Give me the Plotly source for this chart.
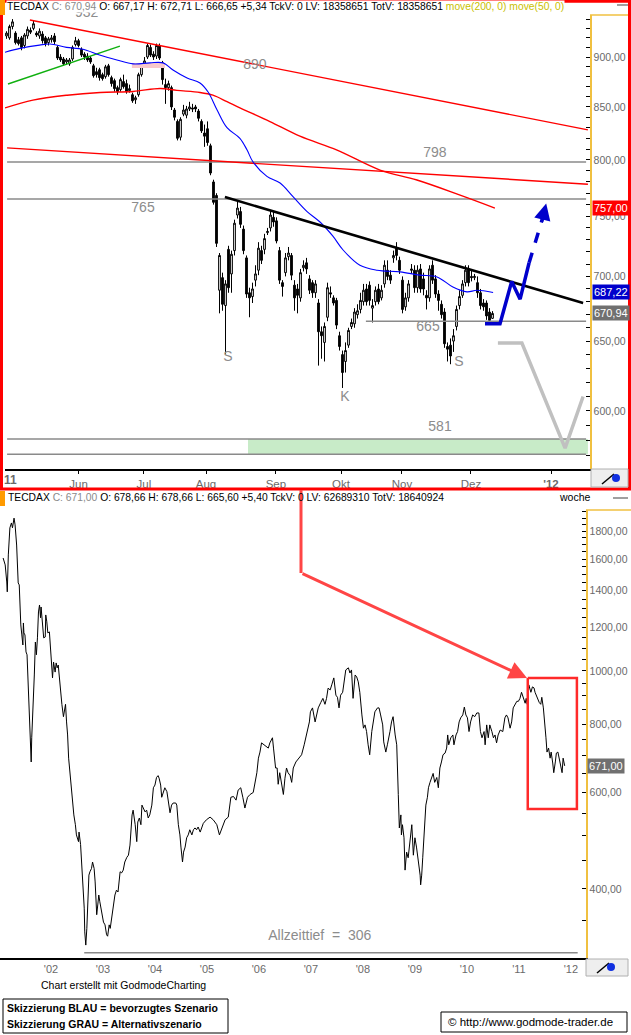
import numpy as np
import plotly.graph_objects as go

W, H = 631, 1035

# ================= TOP PANEL: TecDAX daily 2011 (x = trading-day index) =================
opens = [922, 920, 932, 925, 918, 920, 912, 922, 928, 930,
         925, 922, 924, 920, 915, 918, 922, 910, 900, 898,
         895, 893, 898, 913, 917, 908, 903, 901, 899, 891,
         885, 887, 882, 880, 891, 879, 876, 869, 867, 875,
         873, 866, 862, 857, 862, 882, 891, 900, 910, 903,
         901, 912, 894, 872, 869, 869, 847, 836, 821, 843,
         842, 848, 849, 850, 846, 836, 825, 829,
         813, 780, 768,
         689, 699, 677, 722, 702, 721, 751, 754, 739, 715,
         687, 684, 697, 705, 721, 722, 736, 740, 749, 746,
         721, 695, 703, 716, 717, 693, 690, 683, 707, 711,
         698, 695, 687, 679, 657, 649, 668, 687, 683, 681,
         654, 640,
         635, 647, 661, 663, 670, 674, 680, 690, 693, 675,
         680, 690, 683, 694, 705, 701, 715, 723, 713, 697,
         676, 683, 706, 705, 691, 706, 698, 685, 683, 709,
         698, 686, 678, 672, 646, 647, 650, 661, 677, 685,
         695, 706, 700, 699, 695, 687, 679, 679, 672, 667.17]
closes = [925, 932, 937, 915, 914, 910, 923, 929, 926, 935,
          923, 927, 917, 914, 919, 920, 916, 899, 897, 893,
          897, 897, 910, 917, 912, 902, 900, 897, 895, 881,
          882, 879, 878, 890, 882, 873, 868, 865, 877, 870,
          865, 868, 856, 859, 882, 891, 896, 912, 902, 900,
          912, 899, 877, 869, 873, 850, 840, 820, 838, 847,
          848, 850, 848, 848, 839, 827, 822, 816,
          788, 762, 727,
          717, 678, 694, 691, 718, 744, 757, 743, 721, 686,
          683, 690, 702, 723, 713, 731, 737, 751, 745, 729,
          697, 692, 715, 719, 701, 683, 685, 703, 709, 706,
          689, 687, 694, 657, 654, 661, 691, 686, 679, 662,
          646, 627,
          643, 658, 664, 672, 673, 681, 689, 680, 681, 677,
          689, 680, 689, 709, 700, 697, 717, 717, 705, 674,
          683, 694, 705, 691, 705, 690, 690, 683, 706, 697,
          686, 681, 670, 648, 644, 639, 654, 674, 684, 694,
          705, 695, 699, 700, 687, 677, 676, 669, 665.6, 670.94]
highs = [927, 934, 940, 927, 921, 922, 925, 932, 931, 938,
         927, 930, 927, 922, 921, 923, 925, 912, 903, 900,
         899, 899, 912, 921, 919, 910, 905, 904, 901, 893,
         889, 889, 884, 892, 893, 881, 878, 871, 879, 882,
         877, 872, 864, 861, 884, 893, 900, 914, 913, 906,
         914, 914, 896, 878, 876, 871, 849, 838, 840, 852,
         851, 855, 853, 852, 848, 838, 833, 836,
         815, 782, 770,
         719, 703, 697, 725, 721, 747, 763, 758, 742, 717,
         691, 695, 709, 728, 725, 735, 740, 755, 754, 749,
         724, 697, 719, 724, 719, 697, 694, 706, 713, 715,
         701, 697, 697, 682, 661, 664, 695, 692, 685, 683,
         657, 643,
         649, 660, 667, 675, 678, 687, 694, 694, 696, 682,
         692, 694, 693, 713, 713, 705, 721, 728, 716, 700,
         687, 697, 710, 709, 709, 710, 703, 689, 709, 713,
         701, 689, 681, 675, 649, 652, 659, 677, 689, 697,
         709, 709, 705, 702, 700, 690, 682, 681, 675, 672.71]
lows = [919, 918, 929, 913, 912, 907, 909, 919, 924, 928,
        921, 919, 914, 911, 912, 915, 913, 897, 895, 891,
        892, 891, 896, 911, 910, 900, 897, 895, 893, 879,
        879, 876, 876, 878, 880, 870, 865, 862, 865, 868,
        863, 864, 854, 853, 860, 880, 889, 898, 900, 897,
        898, 897, 872, 853, 866, 847, 837, 818, 818, 841,
        839, 846, 845, 845, 836, 825, 812, 813,
        786, 760, 724,
        671, 673, 640, 687, 687, 717, 748, 740, 718, 683,
        668, 679, 692, 701, 710, 718, 734, 737, 741, 727,
        694, 684, 700, 713, 697, 673, 671, 680, 704, 702,
        686, 683, 683, 632, 637, 635, 665, 683, 677, 659,
        643, 616,
        627, 645, 659, 660, 667, 671, 677, 677, 677, 664,
        677, 678, 681, 691, 697, 694, 711, 713, 702, 671,
        673, 680, 702, 687, 687, 687, 685, 674, 680, 694,
        683, 673, 667, 645, 635, 633, 642, 658, 674, 683,
        692, 692, 696, 697, 683, 674, 673, 666, 664, 666.65]
day_idx = list(range(len(closes)))

month_pos = [24, 45.8, 66.5, 89.8, 111.5, 131.8, 154.8, 181.5]
month_lbl = ["Jun", "Jul", "Aug", "Sep", "Okt", "Nov", "Dez", "<b>'12</b>"]

# moving averages
ma50_t = [-0.5, 4.5, 11, 14.5, 20, 25.5, 31, 36.8, 42.2, 47.8, 52.2, 55.5, 60.2, 64.5, 67.2,
          70.2, 73.5, 77.8, 80.2, 82.2, 86.8, 91.2, 95.5, 100.2, 104.5, 108.8, 112.2, 117.8,
          123.5, 131.2, 137.8, 143.5, 148.8, 153.5, 156.8, 162.2]
ma50_v = [905, 909, 912.4, 913.5, 910, 908, 902, 897, 893, 894, 894, 886.7, 878.6, 873.6, 864.6,
          847, 830, 820, 809, 798, 785, 779, 767, 754, 745, 733, 721.5, 709,
          705, 703.6, 701, 699.6, 691.5, 687.7, 689, 687.22]
ma200_t = [-0.5, 8.8, 20.2, 31.2, 42.2, 51.2, 56.8, 64.5, 68.8, 73.5, 77.8, 87.8, 97.8, 110.2,
           124.5, 136.8, 151.2, 162.8]
ma200_v = [849, 856.7, 861.5, 864.2, 865.2, 868.2, 866.3, 864.2, 861.5, 855.1, 849.1, 835.9, 822,
           809, 790.7, 781.7, 768.3, 757]

# trend lines
upper_red_t, upper_red_v = [7.8, 193.8], [939, 828]
lower_red_t, lower_red_v = [0.2, 193.8], [811, 778]
green_t, green_v = [0.5, 37.8], [872.6, 911.4]
black_t, black_v = [72.8, 192.2], [766.6, 679]

# horizontal levels
level_vals = [798, 765, 665, 581, 571]
level_start = [0.2, 0.2, 119.8, 0.2, 0.2]
level_end = [193.2, 193.2, 193.2, 193.2, 193.2]
band_t, band_lo, band_hi = [80.5, 193.8], 571, 581
pink_t, pink_v = [41.8, 52.8], [888.7, 893.8]

# scenario sketches
blue_t = [159.5, 164.5, 168.4, 171.2, 174.2]
blue_v = [663, 663, 696, 682, 711]
blue_dash_t, blue_dash_v = [174.2, 178.9], [711, 750]
blue_tip_t, blue_tip_v = 179.9, 761
gray_t = [163.8, 171.8, 186.2, 192.2]
gray_v = [648.5, 648.5, 575, 610]

top_lbl_t = [82.8, 142.8, 45.5, 140.5, 144.5, 73.8, 112.8, 150.8]
top_lbl_v = [891, 806, 757, 660, 589, 638, 609, 634.6]
top_lbl_txt = ["890", "798", "765", "665", "581", "S", "K", "S"]

top_major = [600, 650, 700, 750, 800, 850, 900]

# ================= BOTTOM PANEL: TecDAX weekly (x = decimal year) =================
week_x = [2001.08, 2001.12, 2001.15, 2001.16, 2001.18, 2001.21, 2001.24, 2001.26, 2001.29, 2001.31,
          2001.34, 2001.35, 2001.37, 2001.39, 2001.40, 2001.42, 2001.44, 2001.46, 2001.47, 2001.48,
          2001.50, 2001.52, 2001.54, 2001.56, 2001.58, 2001.60, 2001.62, 2001.63, 2001.65, 2001.66,
          2001.68, 2001.70, 2001.72, 2001.74, 2001.76, 2001.78, 2001.80, 2001.81, 2001.83, 2001.86,
          2001.89, 2001.90, 2001.92, 2001.94, 2001.97, 2001.99, 2002.01, 2002.03, 2002.05, 2002.08,
          2002.10, 2002.12, 2002.14, 2002.16, 2002.19, 2002.21, 2002.24, 2002.26, 2002.28, 2002.30,
          2002.32, 2002.34, 2002.37, 2002.40, 2002.42, 2002.44, 2002.47, 2002.49, 2002.53, 2002.54,
          2002.57, 2002.59, 2002.62, 2002.64, 2002.65, 2002.67, 2002.69, 2002.71, 2002.73, 2002.75,
          2002.78, 2002.80, 2002.83, 2002.85, 2002.88, 2002.90, 2002.92, 2002.94, 2002.98, 2003.01,
          2003.04, 2003.07, 2003.09, 2003.12, 2003.14, 2003.17, 2003.20, 2003.23, 2003.26, 2003.29,
          2003.33, 2003.36, 2003.39, 2003.42, 2003.46, 2003.49, 2003.52, 2003.54, 2003.56, 2003.58,
          2003.62, 2003.65, 2003.67, 2003.70, 2003.73, 2003.75, 2003.78, 2003.81, 2003.84, 2003.87,
          2003.90, 2003.94, 2003.97, 2004.00, 2004.03, 2004.06, 2004.08, 2004.11, 2004.13, 2004.16,
          2004.19, 2004.23, 2004.26, 2004.29, 2004.32, 2004.35, 2004.40, 2004.42, 2004.45, 2004.48,
          2004.50, 2004.53, 2004.55, 2004.58, 2004.61, 2004.64, 2004.67, 2004.71, 2004.74, 2004.77,
          2004.80, 2004.83, 2004.87, 2004.93, 2004.99, 2005.06, 2005.12, 2005.19, 2005.24, 2005.28,
          2005.35, 2005.41, 2005.46, 2005.51, 2005.56, 2005.60, 2005.65, 2005.69, 2005.73, 2005.78,
          2005.83, 2005.89, 2005.92, 2005.96, 2005.99, 2006.02, 2006.05, 2006.10, 2006.14, 2006.18,
          2006.21, 2006.26, 2006.28, 2006.30, 2006.32, 2006.35, 2006.37, 2006.40, 2006.44, 2006.47,
          2006.50, 2006.53, 2006.56, 2006.60, 2006.63, 2006.66, 2006.71, 2006.76, 2006.82, 2006.87,
          2006.90, 2006.94, 2006.97, 2006.99, 2007.03, 2007.08, 2007.11, 2007.14, 2007.19, 2007.23,
          2007.27, 2007.30, 2007.33, 2007.37, 2007.40, 2007.44, 2007.48, 2007.51, 2007.54, 2007.57,
          2007.61, 2007.63, 2007.67, 2007.72, 2007.75, 2007.78, 2007.81, 2007.85, 2007.88, 2007.91,
          2007.94, 2007.98, 2008.01, 2008.04, 2008.07, 2008.10, 2008.13, 2008.17, 2008.20, 2008.23,
          2008.28, 2008.31, 2008.34, 2008.38, 2008.40, 2008.44, 2008.47, 2008.49, 2008.52, 2008.55,
          2008.58, 2008.62, 2008.65, 2008.68, 2008.70, 2008.73, 2008.74, 2008.76, 2008.79, 2008.81,
          2008.84, 2008.87, 2008.90, 2008.94, 2008.97, 2009.00, 2009.03, 2009.06, 2009.10, 2009.11,
          2009.13, 2009.15, 2009.17, 2009.19, 2009.21, 2009.24, 2009.26, 2009.29, 2009.32, 2009.35,
          2009.38, 2009.42, 2009.45, 2009.48, 2009.51, 2009.54, 2009.58, 2009.61, 2009.63, 2009.65,
          2009.69, 2009.73, 2009.75, 2009.79, 2009.82, 2009.85, 2009.88, 2009.92, 2009.95, 2009.98,
          2010.01, 2010.04, 2010.07, 2010.11, 2010.15, 2010.19, 2010.23, 2010.26, 2010.29, 2010.33,
          2010.35, 2010.38, 2010.41, 2010.44, 2010.48, 2010.51, 2010.54, 2010.57, 2010.60, 2010.64,
          2010.69, 2010.71, 2010.73, 2010.76, 2010.79, 2010.83, 2010.86, 2010.89, 2010.92, 2010.96,
          2010.99, 2011.02, 2011.05, 2011.08, 2011.12, 2011.14, 2011.16, 2011.19, 2011.23, 2011.26,
          2011.29, 2011.31, 2011.35, 2011.39, 2011.42, 2011.44, 2011.47, 2011.50, 2011.52, 2011.54,
          2011.57, 2011.60, 2011.62, 2011.65, 2011.67, 2011.70, 2011.72, 2011.75, 2011.77, 2011.80,
          2011.83, 2011.85, 2011.88]
week_v = [1607, 1561, 1453, 1394, 1628, 1824, 1862, 1824, 1900, 1847,
          1697, 1581, 1447, 1435, 1319, 1213, 1163, 1115, 1223, 1173,
          1163, 1083, 1070, 971, 876, 755, 682, 755, 831, 869,
          983, 1129, 1070, 1149, 1281, 1319, 1250, 1308, 1239, 1149,
          1153, 1265, 1229, 1173, 1178, 1101, 1038, 971, 1038, 995,
          1034, 1013, 1025, 971, 903, 869, 825, 842, 869, 807,
          764, 693, 638, 601, 562, 546, 524, 502, 488, 508,
          482, 444, 402, 369, 334, 316, 339, 385, 424, 430,
          436, 448, 436, 412, 359, 374, 390, 379, 363, 348,
          344, 330, 328, 344, 339, 354, 374, 390, 398, 395,
          430, 428, 433, 448, 457, 461, 481, 524, 546, 557,
          524, 488, 530, 539, 524, 569, 562, 553, 557, 539,
          546, 569, 612, 619, 639, 644, 637, 619, 588, 602,
          612, 602, 574, 551, 569, 574, 574, 569, 524, 502,
          477, 448, 467, 477, 496, 502, 513, 502, 513, 517,
          513, 519, 508, 527, 535, 541, 535, 524, 502, 513,
          535, 541, 588, 590, 581, 606, 612, 588, 562, 588,
          595, 600, 619, 652, 693, 711, 739, 733, 726, 723,
          739, 755, 723, 693, 665, 665, 621, 652, 619, 595,
          637, 665, 652, 644, 626, 665, 682, 693, 703, 733,
          755, 775, 807, 842, 856, 807, 831, 856, 876, 891,
          869, 891, 930, 923, 943, 971, 903, 895, 856, 903,
          914, 943, 1004, 1013, 991, 1004, 891, 983, 975, 955,
          914, 831, 786, 797, 775, 733, 703, 775, 807, 842,
          856, 856, 831, 797, 742, 711, 733, 755, 775, 807,
          825, 764, 733, 595, 517, 546, 502, 524, 496, 433,
          467, 456, 488, 524, 461, 496, 477, 456, 424, 407,
          424, 456, 496, 524, 569, 588, 612, 626, 637, 650,
          626, 639, 612, 665, 682, 703, 708, 723, 764, 733,
          755, 764, 733, 764, 775, 807, 821, 831, 859, 831,
          821, 775, 807, 831, 825, 838, 838, 775, 755, 775,
          733, 797, 755, 797, 775, 755, 764, 739, 764, 780,
          775, 797, 821, 831, 821, 786, 807, 856, 869, 880,
          880, 891, 914, 895, 873, 891, 869, 943, 914, 935,
          931, 914, 891, 876, 869, 895, 856, 807, 755, 711,
          723, 693, 711, 679, 652, 682, 708, 711, 693, 679,
          652, 693, 671]
year_pos = [2002, 2003, 2004, 2005, 2006, 2007, 2008, 2009, 2010, 2011, 2012]
year_lbl = ["'02", "'03", "'04", "'05", "'06", "'07", "'08", "'09", "'10", "'11", "'12"]
bottom_major = [400, 600, 800, 1000, 1200, 1400, 1600, 1800]
box_x = [2011.17, 2012.115, 2012.115, 2011.17, 2011.17]
box_v = [971, 971, 560, 560, 971]
ath_low = 306
ath_x = [2002.64, 2012.13]

FONT = "Liberation Sans, Arial, sans-serif"
GRAYTXT = "#6a6a6a"
n = min(len(week_x), len(week_v))

fig = go.Figure()
# ---- top panel traces ----
fig.add_trace(go.Scatter(x=[band_t[0], band_t[1], band_t[1], band_t[0]],
                         y=[band_lo, band_lo, band_hi, band_hi], fill="toself",
                         fillcolor="#c8ebc8", line=dict(width=0), mode="lines", hoverinfo="skip"))
fig.add_trace(go.Scatter(x=[pink_t[0], pink_t[1], pink_t[1], pink_t[0]],
                         y=[pink_v[0], pink_v[0], pink_v[1], pink_v[1]], fill="toself",
                         fillcolor="#f8c8cc", line=dict(width=0), mode="lines", hoverinfo="skip"))
for lv, s, e in zip(level_vals, level_start, level_end):
    fig.add_trace(go.Scatter(x=[s, e], y=[lv, lv], mode="lines",
                             line=dict(color="#8a8a8a", width=1.5), hoverinfo="skip"))
fig.add_trace(go.Scatter(x=upper_red_t, y=upper_red_v, mode="lines",
                         line=dict(color="#ff0000", width=1.4), hoverinfo="skip"))
fig.add_trace(go.Scatter(x=lower_red_t, y=lower_red_v, mode="lines",
                         line=dict(color="#ff0000", width=1.4), hoverinfo="skip"))
fig.add_trace(go.Scatter(x=green_t, y=green_v, mode="lines",
                         line=dict(color="#10b010", width=1.4), hoverinfo="skip"))
fig.add_trace(go.Scatter(x=ma200_t, y=ma200_v, mode="lines", line_shape="spline",
                         line=dict(color="#ff0000", width=1.4), hoverinfo="skip"))
fig.add_trace(go.Candlestick(x=day_idx, open=opens, high=highs, low=lows, close=closes,
                             increasing=dict(line=dict(color="black", width=1), fillcolor="white"),
                             decreasing=dict(line=dict(color="black", width=1), fillcolor="black"),
                             whiskerwidth=0, hoverinfo="skip"))
fig.add_trace(go.Scatter(x=ma50_t, y=ma50_v, mode="lines", line_shape="spline",
                         line=dict(color="#0000ff", width=1.1), hoverinfo="skip"))
fig.add_trace(go.Scatter(x=black_t, y=black_v, mode="lines",
                         line=dict(color="black", width=2.6), hoverinfo="skip"))
fig.add_trace(go.Scatter(x=gray_t, y=gray_v, mode="lines",
                         line=dict(color="#c0c0c0", width=3.5), hoverinfo="skip"))
fig.add_trace(go.Scatter(x=blue_t, y=blue_v, mode="lines",
                         line=dict(color="#0000cc", width=3.5), hoverinfo="skip"))
fig.add_trace(go.Scatter(x=blue_dash_t, y=blue_dash_v, mode="lines",
                         line=dict(color="#0000cc", width=3.5, dash="dash"), hoverinfo="skip"))
fig.add_trace(go.Scatter(x=top_lbl_t, y=top_lbl_v, text=top_lbl_txt, mode="text",
                         textfont=dict(family=FONT, size=14, color="#8c8c8c"), hoverinfo="skip"))

# ---- bottom panel traces ----
fig.add_trace(go.Scatter(x=ath_x, y=[ath_low, ath_low], mode="lines", xaxis="x2", yaxis="y2",
                         line=dict(color="#8a8a8a", width=1.5), hoverinfo="skip"))
fig.add_trace(go.Scatter(x=week_x[:n], y=week_v[:n], mode="lines", xaxis="x2", yaxis="y2",
                         line=dict(color="black", width=1), hoverinfo="skip"))
fig.add_trace(go.Scatter(x=box_x, y=box_v, mode="lines", xaxis="x2", yaxis="y2",
                         line=dict(color="#ff2a2a", width=2.5), hoverinfo="skip"))
fig.add_trace(go.Scatter(x=[2007.17], y=[328], text=["Allzeittief  =  306"], mode="text",
                         xaxis="x2", yaxis="y2",
                         textfont=dict(family=FONT, size=14, color="#8c8c8c"), hoverinfo="skip"))

# ticks
top_ticks = list(range(570, 950, 10))
top_text = [f"{v},00" if v in top_major else "" for v in top_ticks]
bot_ticks = list(range(300, 2000, 50))
bot_text = [f"{v},00" if v in bottom_major else "" for v in bot_ticks]

fig.update_layout(
    width=W, height=H, autosize=False, margin=dict(l=0, r=0, t=0, b=0),
    paper_bgcolor="white", plot_bgcolor="white", showlegend=False, boxgap=0.15,
    font=dict(family=FONT, size=11, color=GRAYTXT),
    xaxis=dict(domain=[5 / W, 590 / W], range=[-0.5, 194.5], anchor="y",
               showgrid=False, zeroline=False, showline=True, linecolor="black", linewidth=2,
               ticks="outside", ticklen=3, tickcolor="black",
               tickvals=month_pos, ticktext=month_lbl,
               tickfont=dict(size=11.5, color=GRAYTXT), rangeslider=dict(visible=False)),
    yaxis=dict(domain=[1 - 469 / H, 1 - 15 / H], type="log",
               range=[np.log10(561.4), np.log10(944.4)], side="right", anchor="x",
               showgrid=False, zeroline=False, showline=True, linecolor="#f0c040", linewidth=1.5,
               ticks="inside", ticklen=4, tickcolor="black",
               tickvals=top_ticks, ticktext=top_text, tickfont=dict(size=10.5, color=GRAYTXT)),
    xaxis2=dict(domain=[0, 586 / W], range=[2001.02, 2012.29], anchor="y2",
                showgrid=False, zeroline=False, showline=True, linecolor="black", linewidth=2,
                ticks="", tickvals=year_pos, ticktext=year_lbl,
                tickfont=dict(size=11, color=GRAYTXT)),
    yaxis2=dict(domain=[1 - 958 / H, 1 - 510 / H], type="log",
                range=[np.log10(299.3), np.log10(1966)], side="right", anchor="x2",
                showgrid=False, zeroline=False, showline=True, linecolor="#f0c040", linewidth=1.5,
                ticks="inside", ticklen=4, tickcolor="black",
                tickvals=bot_ticks, ticktext=bot_text, tickfont=dict(size=10.5, color=GRAYTXT)),
)

def P(x, y):
    return x / W, 1 - y / H

shapes = []
def prect(x0, y0, x1, y1, **kw):
    a, b = P(x0, y0); c, d = P(x1, y1)
    shapes.append(dict(type="rect", xref="paper", yref="paper", x0=a, y0=d, x1=c, y1=b, **kw))
def pline(x0, y0, x1, y1, **kw):
    a, b = P(x0, y0); c, d = P(x1, y1)
    shapes.append(dict(type="line", xref="paper", yref="paper", x0=a, y0=b, x1=c, y1=d, **kw))

prect(1.5, 1.2, 629.5, 489, line=dict(color="#ff0000", width=3))
prect(0, 0, 5, 15, fillcolor="#ff9a00", line=dict(width=0))
prect(0, 491, 5, 506, fillcolor="#ff9a00", line=dict(width=0))
pline(590, 15, 628, 15, line=dict(color="#f0c040", width=1.5))
pline(586, 510, 631, 510, line=dict(color="#f0c040", width=1.5))
pline(617, 5, 628, 5, line=dict(color="#a0a0a0", width=2))
pline(613, 498, 628, 498, line=dict(color="#a0a0a0", width=2))
# icon boxes
prect(591, 469, 628, 487, fillcolor="#eeeeee", line=dict(color="#b0b0b0", width=1))
prect(586, 959, 628, 976, fillcolor="#eeeeee", line=dict(color="#b0b0b0", width=1))
pline(602, 484, 614, 474, line=dict(color="black", width=1.5))
pline(597, 973, 609, 963, line=dict(color="black", width=1.5))
shapes.append(dict(type="circle", xref="paper", yref="paper",
                   x0=612 / W, x1=620 / W, y0=1 - 482 / H, y1=1 - 474 / H,
                   fillcolor="#1030e0", line=dict(width=0)))
shapes.append(dict(type="circle", xref="paper", yref="paper",
                   x0=607 / W, x1=615 / W, y0=1 - 971 / H, y1=1 - 963 / H,
                   fillcolor="#1030e0", line=dict(width=0)))
# red connector arrow (vertical part)
pline(301, 490, 301, 573, line=dict(color="#ff4545", width=3))
# footer boxes
prect(3, 999, 228, 1033, line=dict(color="black", width=1))
prect(441, 1012, 627, 1032, line=dict(color="black", width=1))
fig.update_layout(shapes=shapes)

ann = []
def ptext(x, y, text, size=11, color="black", xanchor="left", **kw):
    a, b = P(x, y)
    ann.append(dict(xref="paper", yref="paper", x=a, y=b, text=text, showarrow=False,
                    xanchor=xanchor, yanchor="middle",
                    font=dict(family=FONT, size=size, color=color), **kw))

# peak label partly hidden behind the header line
ptext(87, 12, "932", size=14, color="#8c8c8c", xanchor="center")
ptext(6, 6.5, "TECDAX <span style='color:#8a8a8a'>C: 670,94</span> O: 667,17 H: 672,71 L: 666,65 +5,34 "
      "TckV: 0 LV: 18358651 TotV: 18358651 <span style='color:#c8c000'>move(200, 0) move(50, 0)</span>",
      size=10.3, bgcolor="white", borderpad=0)
ptext(6, 497, "TECDAX <span style='color:#8a8a8a'>C: 671,00</span> O: 678,66 H: 678,66 L: 665,60 +5,40 "
      "TckV: 0 LV: 62689310 TotV: 18640924", size=10.3)
ptext(575, 497, "woche", xanchor="center", size=10.5)
ptext(2, 480, "<b>11</b>", size=12, color=GRAYTXT)
ptext(39, 985, "Chart erstellt mit GodmodeCharting", size=10.5)
ptext(5, 1008, "<b>Skizzierung BLAU = bevorzugtes Szenario</b>", size=10.5)
ptext(5, 1024, "<b>Skizzierung GRAU = Alternativszenario</b>", size=10.5)
ptext(446, 1022, "© http://www.godmode-trader.de", size=11.5)

# value flags on the right axes
for val, txt, bg, yref in [(757, "757,00", "#ff0000", "y"), (687.22, "687,22", "#0000cc", "y"),
                           (670.94, "670,94", "#707070", "y"), (671, "671,00", "#707070", "y2")]:
    ann.append(dict(xref="paper", yref=yref, x=(592 if yref == "y" else 587) / W, y=np.log10(val),
                    text=txt, showarrow=False, xanchor="left", yanchor="middle",
                    bgcolor=bg, borderpad=1, font=dict(family=FONT, size=11, color="white")))

# blue dashed arrow head (data coords; log axis uses log10)
ann.append(dict(xref="x", yref="y", axref="x", ayref="y", x=blue_tip_t, y=np.log10(blue_tip_v),
                ax=blue_dash_t[1] - 0.6, ay=np.log10(blue_dash_v[1] - 6), text="", showarrow=True,
                arrowhead=2, arrowsize=1.1, arrowwidth=3, arrowcolor="#0000cc", standoff=0))
# red connector arrow (diagonal part)
hx, hy = P(527, 678)
ann.append(dict(xref="paper", yref="paper", x=hx, y=hy, ax=301 - 527, ay=573 - 678,
                text="", showarrow=True, arrowhead=2, arrowsize=1.2, arrowwidth=3,
                arrowcolor="#ff4545", standoff=0))
fig.update_layout(annotations=ann)

fig.write_html("out.html", config={"displayModeBar": False, "staticPlot": True},
               post_script="document.body.style.margin='0';document.body.style.padding='0';"
                           "document.body.style.overflow='hidden';")
